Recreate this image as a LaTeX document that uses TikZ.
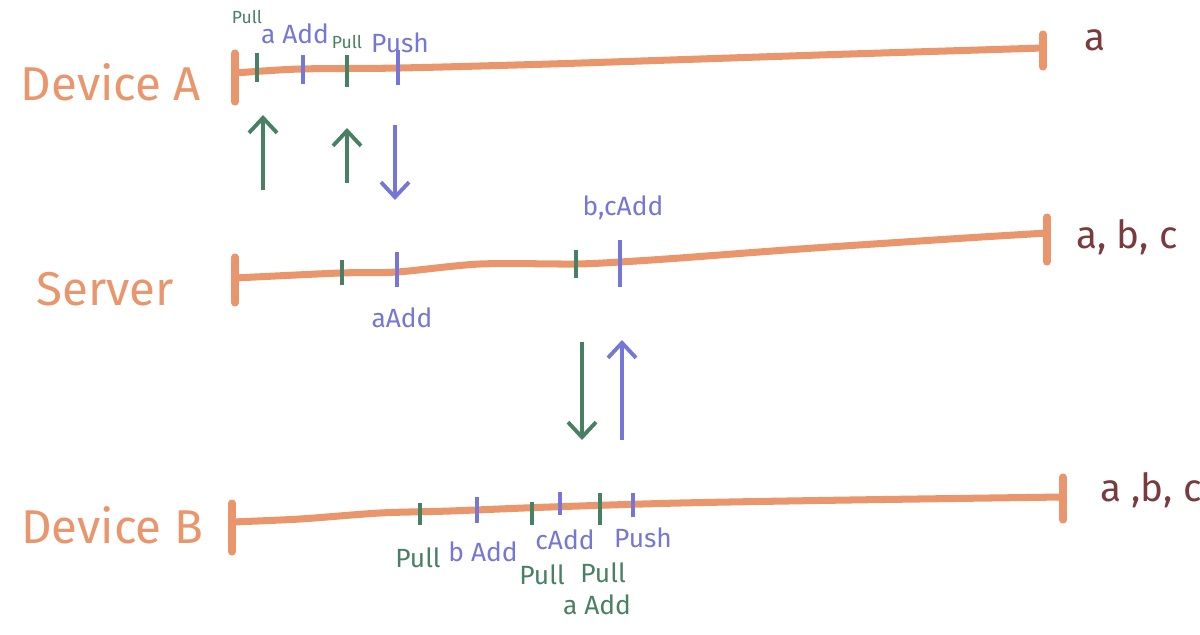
\documentclass[tikz,border=0pt]{standalone}
\usepackage{fontspec}
\setmainfont{Fira Sans}
\usetikzlibrary{arrows.meta}

\definecolor{lineorange}{RGB}{234,150,108}
\definecolor{pullgreen}{RGB}{72,128,100}
\definecolor{addblue}{RGB}{118,118,214}
\definecolor{statered}{RGB}{122,58,62}

\begin{document}
\begin{tikzpicture}[>={Straight Barb[length=1.5mm, width=2.8mm]},
        timeline/.style={lineorange, line width=2pt, line cap=round},
        greentick/.style={pullgreen, line width=1.1pt},
        bluetick/.style={addblue, line width=1.1pt},
        msg/.style={->, line width=1.1pt},
        device/.style={lineorange, font=\fontsize{13.5}{15}\selectfont},
        greenlbl/.style={pullgreen, inner sep=1pt, font=\fontsize{7.5}{9}\selectfont},
        bluelbl/.style={addblue, inner sep=1pt, font=\fontsize{7.5}{9}\selectfont},
        tinylbl/.style={pullgreen, inner sep=1pt, font=\fontsize{5}{6}\selectfont},
        statelbl/.style={statered, anchor=west, font=\fontsize{11}{12}\selectfont}]
        \clip (0, 0) rectangle (12, 6.34);

        % Device A
        \node[device] (devA) at (1.11, 5.52) {Device A};
        \draw[timeline] plot[smooth] coordinates {(2.35,5.61) (3.0,5.65) (4.0,5.66) (5.5,5.70) (7.0,5.75) (8.5,5.80) (10.43,5.86)};
        \draw[timeline] (2.35, 5.81) -- (2.35, 5.32);
        \draw[timeline] (10.43, 6.00) -- (10.43, 5.67);
        \foreach \x/\ya/\yb in {2.57/5.81/5.52, 3.47/5.79/5.47} {
            \draw[greentick] (\x, \ya) -- (\x, \yb);
        }
        \foreach \x/\ya/\yb in {3.03/5.79/5.50, 3.98/5.84/5.49} {
            \draw[bluetick] (\x, \ya) -- (\x, \yb);
        }
        \node[tinylbl] (pullA1) at (2.47, 6.17) {Pull};
        \node[bluelbl] (addA) at (2.95, 6.00) {a Add};
        \node[tinylbl] (pullA2) at (3.47, 5.92) {Pull};
        \node[bluelbl] (pushA) at (4.00, 5.91) {Push};
        \node[statelbl] (stateA) at (10.72, 5.94) {a};

        % Server
        \node[device] (srv) at (1.05, 3.45) {Server};
        \draw[timeline] plot[smooth] coordinates {(2.35,3.56) (3.4,3.61) (3.97,3.62) (4.8,3.70) (5.75,3.70) (6.2,3.72) (6.8,3.76) (8.0,3.85) (9.5,3.95) (10.47,4.01)};
        \draw[timeline] (2.35, 3.77) -- (2.35, 3.31);
        \draw[timeline] (10.47, 4.17) -- (10.47, 3.72);
        \foreach \x/\ya/\yb in {3.42/3.74/3.49, 5.76/3.84/3.56} {
            \draw[greentick] (\x, \ya) -- (\x, \yb);
        }
        \foreach \x/\ya/\yb in {3.97/3.82/3.47, 6.20/3.94/3.47} {
            \draw[bluetick] (\x, \ya) -- (\x, \yb);
        }
        \node[bluelbl] (addSrv1) at (4.02, 3.16) {aAdd};
        \node[bluelbl] (addSrv2) at (6.23, 4.26) {b,cAdd};
        \node[statelbl] (stateSrv) at (10.64, 3.97) {a, b, c};

        % Device B
        \node[device] (devB) at (1.12, 1.09) {Device B};
        \draw[timeline] plot[smooth] coordinates {(2.32,1.12) (3.0,1.15) (3.8,1.21) (4.5,1.23) (5.5,1.27) (6.8,1.31) (8.5,1.34) (10.63,1.37)};
        \draw[timeline] (2.32, 1.31) -- (2.32, 0.82);
        \draw[timeline] (10.63, 1.57) -- (10.63, 1.14);
        \foreach \x/\ya/\yb in {4.20/1.31/1.09, 5.32/1.32/1.09, 6.00/1.41/1.09} {
            \draw[greentick] (\x, \ya) -- (\x, \yb);
        }
        \foreach \x/\ya/\yb in {4.77/1.37/1.11, 5.60/1.42/1.19, 6.33/1.41/1.17} {
            \draw[bluetick] (\x, \ya) -- (\x, \yb);
        }
        \node[greenlbl] (pullB1) at (4.18, 0.76) {Pull};
        \node[bluelbl] (addB1) at (4.83, 0.82) {b Add};
        \node[bluelbl] (addB2) at (5.65, 0.94) {cAdd};
        \node[bluelbl] (pushB) at (6.43, 0.96) {Push};
        \node[greenlbl] (pullB2) at (5.42, 0.59) {Pull};
        \node[greenlbl] (pullB3) at (6.03, 0.61) {Pull};
        \node[greenlbl] (addB3) at (5.97, 0.29) {a Add};
        \node[statelbl] (stateB) at (10.88, 1.44) {a ,b, c};

        % Messages between device and server
        \coordinate (upA1s) at (2.63, 4.44);
        \coordinate (upA1e) at (2.63, 5.19);
        \coordinate (upA2s) at (3.47, 4.51);
        \coordinate (upA2e) at (3.47, 5.06);
        \coordinate (downAs) at (3.95, 5.09);
        \coordinate (downAe) at (3.95, 4.34);
        \coordinate (downBs) at (5.82, 2.92);
        \coordinate (downBe) at (5.82, 1.94);
        \coordinate (upBs) at (6.22, 1.94);
        \coordinate (upBe) at (6.22, 2.94);
        \draw[msg, pullgreen] (upA1s) -- (upA1e);
        \draw[msg, pullgreen] (upA2s) -- (upA2e);
        \draw[msg, addblue] (downAs) -- (downAe);
        \draw[msg, pullgreen] (downBs) -- (downBe);
        \draw[msg, addblue] (upBs) -- (upBe);
    \end{tikzpicture}
\end{document}
